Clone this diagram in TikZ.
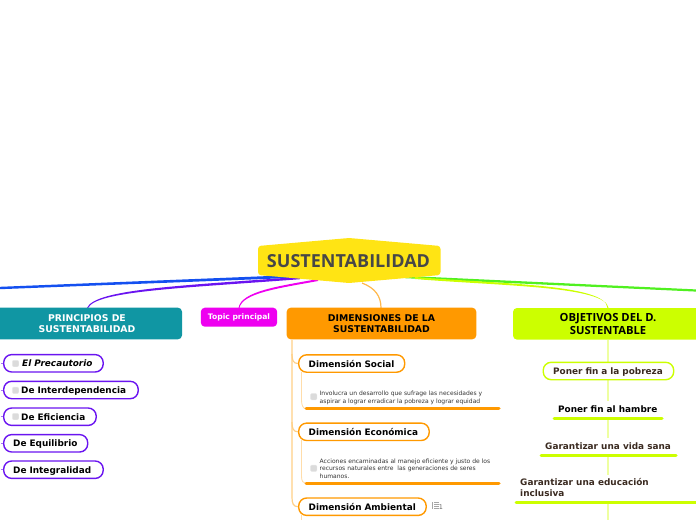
\documentclass[tikz,border=0pt]{standalone}
\usepackage{fontspec}
\setmainfont{DejaVu Sans}
\newfontfamily\titlefont{Open Sans}
\usetikzlibrary{backgrounds,calc}
\definecolor{cteal}{HTML}{1096A3}
\definecolor{cmag}{HTML}{EE00F0}
\definecolor{corange}{HTML}{FF9900}
\definecolor{clight}{HTML}{FFCF85}
\definecolor{clime}{HTML}{CCFF00}
\definecolor{climelt}{HTML}{EEFFA0}
\definecolor{cpurple}{HTML}{6A14F0}
\definecolor{cblue}{HTML}{1450F0}
\definecolor{cgreen}{HTML}{50F020}
\definecolor{cyel}{HTML}{FFE414}
\definecolor{ctext}{HTML}{3A2A20}
\tikzset{
  x=1pt,y=-1pt,
  main/.style={rounded corners=4pt,minimum height=31.6pt,align=center,inner sep=0pt,font=\fontsize{9.3}{11}\selectfont\bfseries},
  pill/.style={draw=#1,fill=white,line width=1.4pt,rounded corners=8pt,minimum height=17.4pt,inner sep=0pt,anchor=west,align=left,text height=7.2pt,text depth=0pt,font=\fontsize{8.9}{10}\selectfont\bfseries},
  ul/.style={inner sep=0pt,anchor=west,align=left},
  small/.style={ul,text=black!80,font=\fontsize{6.03}{7.8}\selectfont},
  bar/.style={line width=#1,line cap=round},
  tick/.style={fill=black!14,draw=black!8,rounded corners=1.2pt,line width=.4pt,minimum size=6.5pt,inner sep=0pt},
  link/.style={line width=#1},
  link/.default=1pt
}
\begin{document}
\begin{tikzpicture}
\useasboundingbox (0,0) rectangle (696,520);
\clip (0,0) rectangle (696,520);
% root
\fill[cyel,rounded corners=3pt] (258,246) -- (349,238) -- (440.5,246) -- (440.5,275) -- (349,283) -- (258,275) -- cycle;
\node[inner sep=0pt,text=black!72,font=\titlefont\fontsize{18}{20}\selectfont\bfseries] (root) at (348.5,261.5) {SUSTENTABILIDAD};
% main topics
\node[main,fill=cteal,text=white,minimum width=190pt] (princ) at (87,323.5) {PRINCIPIOS DE\\SUSTENTABILIDAD};
\node[main,fill=cmag,text=white,minimum width=76.3pt,minimum height=19pt,font=\fontsize{7.6}{9}\selectfont\bfseries] (topic) at (239,317.2) {Topic principal};
\node[main,fill=corange,minimum width=189.6pt] (dim) at (381.5,323.5) {DIMENSIONES DE LA\\SUSTENTABILIDAD};
\node[main,fill=clime,minimum width=190pt,font=\titlefont\fontsize{11.2}{13}\selectfont\bfseries] (obj) at (608,323.8) {OBJETIVOS DEL D.\\SUSTENTABLE};
% left children
\node[pill=cpurple,text width=99.5pt] (p1) at (3,363.3) {\hspace{18.5pt}\textit{El Precautorio}};
\node[pill=cpurple,text width=134.5pt] (p2) at (3,390) {\hspace{17.5pt}De Interdependencia};
\node[pill=cpurple,text width=92.5pt] (p3) at (3,416.7) {\hspace{17.5pt}De Eficiencia};
\node[pill=cpurple,text width=84pt] (p4) at (3,443.3) {\hspace{9.5pt}De Equilibrio};
\node[pill=cpurple,text width=99.5pt] (p5) at (3,469.7) {\hspace{9.5pt}De Integralidad};
\node[tick] (ip1) at (15.5,363.5) {};
\node[tick] (ip2) at (15.5,390.3) {};
\node[tick] (ip3) at (15.5,416.5) {};
% dimension children
\node[pill=corange,text width=106pt] (d1) at (298,363.5) {\hspace{10pt}Dimensión Social};
\node[pill=corange,text width=130.5pt] (d2) at (298,431.8) {\hspace{10pt}Dimensión Económica};
\node[pill=corange,text width=127.5pt] (d3) at (298,506.7) {\hspace{10pt}Dimensión Ambiental};
\node[small] (s1) at (319.5,398) {Involucra un desarrollo que sufrage las necesidades y\\aspirar a lograr erradicar la pobreza y lograr equidad};
\node[small] (s2) at (319.5,468.7) {Acciones encaminadas al manejo eficiente y justo de los\\recursos naturales entre\ \ las generaciones de seres\\humanos.};
\node[tick] (is1) at (313.7,396.7) {};
\node[tick] (is2) at (313.7,468.3) {};
\coordinate (s1a) at (306,408.7); \coordinate (s1b) at (499,408.7);
\coordinate (s2a) at (306,483.5); \coordinate (s2b) at (499,483.5);
\draw[corange,bar=3pt] (s1a) -- (s1b);
\draw[corange,bar=3pt] (s2a) -- (s2b);
\node[inner sep=0pt,text=black!60,font=\fontsize{6.5}{6.5}\selectfont] (cnt) at (441,507) {1};
\foreach \yy in {502,504,506,508}{\fill[black!35] (433.5,\yy) rectangle (438.5,\yy+1.2);}
\fill[black!35] (431.8,501.8) rectangle (432.7,509);
% objective children
\node[pill=clime,text width=130.5pt,text=ctext] (o1) at (542.5,371) {\hspace{10pt}Poner fin a la pobreza};
\node[ul,font=\fontsize{8.9}{10}\selectfont\bfseries] (o2) at (558,409) {Poner fin al hambre};
\node[ul,text=ctext,font=\fontsize{8.9}{10}\selectfont\bfseries] (o3) at (545,446) {Garantizar una vida sana};
\node[ul,text=ctext,font=\fontsize{8.9}{11.5}\selectfont\bfseries] (o4) at (520,487.5) {Garantizar una educación\\inclusiva};
\coordinate (o2a) at (554,418.3); \coordinate (o2b) at (662,418.3);
\coordinate (o3a) at (541,455); \coordinate (o3b) at (676,455);
\coordinate (o4a) at (516,502.5); \coordinate (o4b) at (696,502.5);
\draw[clime,bar=3pt] (o2a) -- (o2b);
\draw[clime,bar=3pt] (o3a) -- (o3b);
\draw[clime,bar=3pt] (o4a) -- (o4b);
% free ends
\coordinate (bl) at (0,288);
\coordinate (gr) at (696,290.5);
\coordinate (yb) at (608,520);
\coordinate (rb) at (292,276.5);
\coordinate (rp) at (300,278);
\coordinate (rm) at (318,280);
\coordinate (ro) at (362,283);
\coordinate (rg) at (405,277);
\coordinate (rl) at (415,278);
\coordinate (pt) at (87.5,308);
\coordinate (ot) at (608,308);
\coordinate (dt) at (381,308);
\coordinate (ds) at (292,340);
\coordinate (yt) at (608,340);
\begin{pgfonlayer}{background}
% tapered main branches
\fill[cblue] ($(rb)+(0,-1.4)$) -- ($(bl)+(0,-1.2)$) -- ($(bl)+(0,1.2)$) -- ($(rb)+(0,1.4)$) -- cycle;
\fill[cpurple] ($(rp)+(0,-1.2)$) .. controls (180,285.8) and (95,289) .. (86.9,308) -- (88.1,308) .. controls (96,291) and (180,288.3) .. ($(rp)+(0,1.2)$) -- cycle;
\fill[cmag] ($(rm)+(0,-1)$) .. controls (280,286) and (241,291) .. (238.5,308) -- (239.5,308) .. controls (242,293) and (280,288) .. ($(rm)+(0,1)$) -- cycle;
\draw[corange!70,link=1.2pt] (ro) .. controls (375,288) and (381,296) .. (dt);
\fill[cgreen] ($(rg)+(0,-1.2)$) -- ($(gr)+(0,-1.1)$) -- ($(gr)+(0,1.1)$) -- ($(rg)+(0,1.2)$) -- cycle;
\fill[clime] ($(rl)+(0,-1)$) .. controls (500,284) and (606,284) .. (607.5,308) -- (608.5,308) .. controls (606,286) and (500,286) .. ($(rl)+(0,1)$) -- cycle;
% left ticks
\foreach \n in {p1,p2,p3,p4,p5}{\draw[cpurple!60,link=.8pt] (\n.west) -- ++(-2.5,0);}
% orange tree
\draw[clight,link=1.2pt] (ds) -- (292,497) .. controls (292,503) and (293,506.7) .. (d3.west);
\draw[clight,link=1.2pt] (292,354) .. controls (292,360) and (293,363.5) .. (d1.west);
\draw[clight,link=1.2pt] (292,422) .. controls (292,428) and (293,431.8) .. (d2.west);
\draw[clight!70,link=.9pt] (301.5,372) -- (301.5,400) .. controls (301.5,405) and (303,408.7) .. (s1a);
\draw[clight!70,link=.9pt] (301.5,440) -- (301.5,476) .. controls (301.5,481) and (303,483.5) .. (s2a);
\draw[clight!70,link=.9pt] (301.5,515) -- (301.5,520);
% lime trunk, node to node
\draw[climelt,link=1.5pt] (yt) -- (o1.north -| yt);
\draw[climelt,link=1.5pt] (o1.south -| yt) -- (608,401);
\draw[climelt,link=1.5pt] (o2a -| yt) -- (608,438);
\draw[climelt,link=1.5pt] (o3a -| yt) -- (608,475);
\draw[climelt,link=1.5pt] (o4a -| yt) -- (yb);
\end{pgfonlayer}
\end{tikzpicture}
\end{document}
